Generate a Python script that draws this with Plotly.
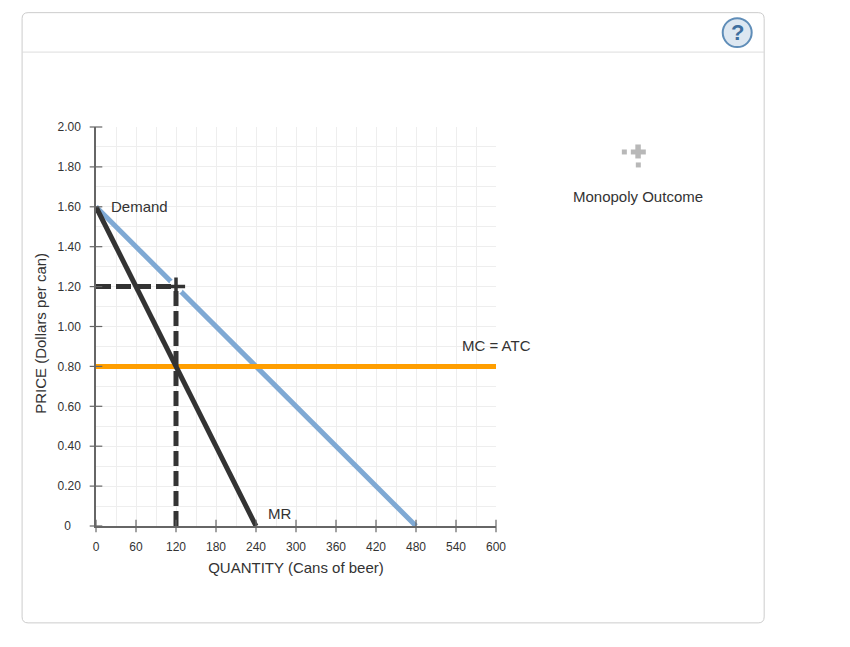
import plotly.graph_objects as go

# tick labels
x_ticks = [0, 60, 120, 180, 240, 300, 360, 420, 480, 540, 600]
y_ticks = [0, 0.2, 0.4, 0.6, 0.8, 1.0, 1.2, 1.4, 1.6, 1.8, 2.0]
y_labels = ["0&nbsp;&nbsp;&nbsp;", "0.20", "0.40", "0.60", "0.80", "1.00", "1.20", "1.40", "1.60", "1.80", "2.00"]

# curves
demand_q = [0, 480]
demand_p = [1.6, 0]
mr_q = [0, 240]
mr_p = [1.6, 0]
mc_q = [0, 600]
mc_p = [0.8, 0.8]

# monopoly outcome
mono_q = [120]
mono_p = [1.2]
price_q = [0, 120]
price_p = [1.2, 1.2]
qty_q = [120, 120]
qty_p = [0, 1.2]

BLUE = "#7fa9d4"
DARK = "#333333"
ORANGE = "#ff9e00"
AXIS = "#666666"
GRID = "#eeeeee"
FONT = "Liberation Sans"

# plot area in page pixels
W, H = 850, 647
L, R, T, B = 95.5, 496, 126.5, 526


def px(x):
    return (x - L) / (R - L)


def py(y):
    return (B - y) / (B - T)


fig = go.Figure()

fig.add_trace(go.Scatter(x=demand_q, y=demand_p, mode="lines", line=dict(color=BLUE, width=5)))
fig.add_trace(go.Scatter(x=mc_q, y=mc_p, mode="lines", line=dict(color=ORANGE, width=5)))
fig.add_trace(go.Scatter(x=mr_q, y=mr_p, mode="lines", line=dict(color=DARK, width=5)))

# white halo under the point, then dashed guides and the cross
fig.add_trace(go.Scatter(x=mono_q, y=mono_p, mode="markers",
                         marker=dict(symbol="circle", size=15, color="white", line=dict(width=0))))
fig.add_trace(go.Scatter(x=price_q, y=price_p, mode="lines",
                         line=dict(color=DARK, width=5, dash="15px,5px")))
fig.add_trace(go.Scatter(x=qty_q, y=qty_p, mode="lines",
                         line=dict(color=DARK, width=5, dash="15px,5px")))
fig.add_trace(go.Scatter(x=mono_q, y=mono_p, mode="markers",
                         marker=dict(symbol="cross-thin", size=13, line=dict(color=DARK, width=3.5))))

# ticks cross the axis lines
fig.add_trace(go.Scatter(x=[0] * len(y_ticks), y=y_ticks, mode="markers", cliponaxis=False,
                         marker=dict(symbol="line-ew", size=9, line=dict(color=AXIS, width=1.2))))
fig.add_trace(go.Scatter(x=x_ticks, y=[0] * len(x_ticks), mode="markers", cliponaxis=False,
                         marker=dict(symbol="line-ns", size=9, line=dict(color=AXIS, width=1.2))))

labels = [("Demand", 19.5, 1.6), ("MR", 255, 0.065), ("MC = ATC", 546, 0.905)]
annotations = [dict(x=a, y=b, text=t, showarrow=False, xanchor="left", yanchor="middle",
                    font=dict(size=15, color="#333333")) for t, a, b in labels]
annotations.append(dict(xref="paper", yref="paper", x=px(638.5), y=py(196.5), text="Monopoly Outcome",
                        showarrow=False, xanchor="center", yanchor="middle",
                        font=dict(size=15, color="#333333")))
annotations.append(dict(xref="paper", yref="paper", x=px(737.5), y=py(32), text="<b>?</b>",
                        showarrow=False, xanchor="center", yanchor="middle",
                        font=dict(size=22, color="#3f6f9f")))
annotations.append(dict(xref="paper", yref="paper", x=px(40), y=py(333), text="PRICE (Dollars per can)",
                        textangle=-90, showarrow=False, xanchor="center", yanchor="middle",
                        font=dict(size=15, color="#333333")))


def paper_rect(x0, y0, x1, y1, color):
    return dict(type="rect", xref="paper", yref="paper", x0=px(x0), x1=px(x1), y0=py(y0), y1=py(y1),
                fillcolor=color, line=dict(width=0), layer="above")


# panel outline with rounded corners
r = 6
x0, x1, y0, y1 = 21.5, 764.5, 12, 623
def pt(x, y):
    return f"{px(x)},{py(y)}"
panel = (f"M {pt(x0 + r, y0)} L {pt(x1 - r, y0)} Q {pt(x1, y0)} {pt(x1, y0 + r)} "
         f"L {pt(x1, y1 - r)} Q {pt(x1, y1)} {pt(x1 - r, y1)} "
         f"L {pt(x0 + r, y1)} Q {pt(x0, y1)} {pt(x0, y1 - r)} "
         f"L {pt(x0, y0 + r)} Q {pt(x0, y0)} {pt(x0 + r, y0)} Z")

shapes = [
    dict(type="path", xref="paper", yref="paper", path=panel, line=dict(color="#cccccc", width=1), layer="below"),
    dict(type="line", xref="paper", yref="paper", x0=px(x0), x1=px(x1), y0=py(51.5), y1=py(51.5),
         line=dict(color="#dddddd", width=1), layer="below"),
    dict(type="circle", xref="paper", yref="paper", x0=px(723), x1=px(752), y0=py(17.5), y1=py(46.5),
         fillcolor="#dde7f1", line=dict(color="#5f8db8", width=2), layer="below"),
    # legend icon
    paper_rect(631, 149, 646, 154, "#b8b8b8"),
    paper_rect(635.5, 144, 641, 158, "#b8b8b8"),
    paper_rect(622, 149, 627, 154, "#b8b8b8"),
    paper_rect(636, 162, 641, 167, "#b8b8b8"),
]

fig.update_layout(
    width=W, height=H,
    margin=dict(l=L, r=W - R, t=T, b=H - B),
    paper_bgcolor="white", plot_bgcolor="white",
    showlegend=False,
    font=dict(family=FONT, color="#333333"),
    annotations=annotations,
    shapes=shapes,
    xaxis=dict(
        range=[0, 600], tickvals=x_ticks, ticks="", showline=True, linecolor=AXIS, linewidth=1.5,
        tickfont=dict(size=12, color="#333333"), showgrid=True, gridcolor=GRID, gridwidth=1, zeroline=False,
        minor=dict(dtick=30, showgrid=True, gridcolor=GRID, gridwidth=1, ticks=""),
        title=dict(text="QUANTITY (Cans of beer)", font=dict(size=15, color="#333333"), standoff=9),
        ticklabelstandoff=9,
    ),
    yaxis=dict(
        range=[0, 2], tickvals=y_ticks, ticktext=y_labels, ticks="", showline=True, linecolor=AXIS, linewidth=1.5,
        tickfont=dict(size=12, color="#333333"), showgrid=True, gridcolor=GRID, gridwidth=1, zeroline=False,
        minor=dict(dtick=0.1, showgrid=True, gridcolor=GRID, gridwidth=1, ticks=""),
        ticklabelstandoff=11,
    ),
)

fig.write_html("out.html", config=dict(displayModeBar=False), post_script="document.body.style.margin='0';")
